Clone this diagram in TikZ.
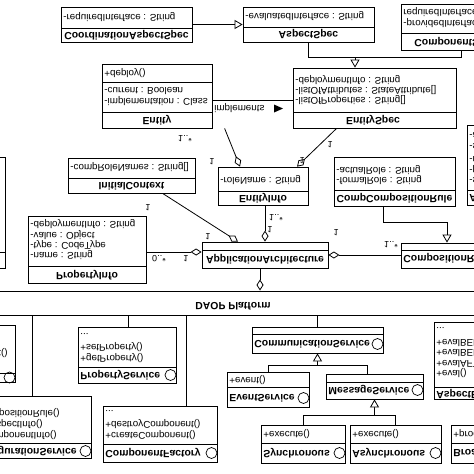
\documentclass[tikz,border=0pt]{standalone}
\usepackage{fontspec}
\setmainfont{Liberation Sans}
\usepackage{graphicx}
\usetikzlibrary{arrows.meta,fit}
\newcommand{\fl}[1]{\scalebox{1}[-1]{#1}}
\newcommand{\T}[3]{\node[tx] (#1) at #2 {\fl{#3}};}
\newcommand{\N}[3]{\node[nm] (#1) at #2 {\fl{#3}};}
\newcommand{\NW}[3]{\node[nm,anchor=west] (#1) at #2 {\fl{#3}};}
\newcommand{\M}[3]{\node[lab] (#1) at #2 {\fl{#3}};}
\tikzset{
  cls/.style={draw, inner sep=0pt, line width=0.8pt},
  tx/.style={inner sep=0pt, anchor=west, font=\fontsize{9.8}{10}\selectfont},
  nm/.style={inner sep=0pt, font=\fontsize{10.4}{11}\selectfont\bfseries},
  lab/.style={inner sep=0pt, font=\fontsize{9}{10}\selectfont},
  svc/.style={draw, circle, inner sep=0pt, minimum size=11pt, line width=0.7pt},
  gen/.style={-{Triangle[length=8pt,width=9pt,fill=white]}},
  agg/.style={{Diamond[length=11pt,width=7pt,fill=white]}-},
}
\begin{document}
\begin{tikzpicture}[x=1pt,y=-1pt,line width=0.8pt]
\useasboundingbox (0,0) rectangle (474,474);
\fill[white] (0,0) rectangle (474,474);
\clip (0,0) rectangle (474,474);

% ---------- upper classes ----------
\node[cls, fit={(61,7) (192,42)}] (cas) {};
\draw (61,28) -- (192,28);
\T{tcas1}{(63,17)}{-requiredInterface : String}
\N{ncas}{(126.5,35)}{CoordinationAspectSpec}

\node[cls, fit={(243,7) (374,42)}] (asp) {};
\draw (243,27) -- (374,27);
\T{tasp1}{(245,16)}{-evaluatedInterface : String}
\N{nasp}{(308.5,34)}{AspectSpec}

\node[cls, fit={(401,4) (540,50)}] (comp) {};
\draw (401,33) -- (540,33);
\T{tcomp1}{(403,12)}{requiredInterface : String}
\T{tcomp2}{(403,23)}{-providedInterface : String}
\NW{ncomp}{(414,42)}{ComponentSpec}

\node[cls, fit={(102,64) (212,128)}] (ent) {};
\draw (102,82) -- (212,82);
\draw (102,112) -- (212,112);
\T{tent1}{(104,73)}{+deploy()}
\T{tent2}{(104,91)}{-current : Boolean}
\T{tent3}{(104,101)}{-implementation : Class}
\N{nent}{(157,120)}{Entity}

\node[cls, fit={(293,68) (456,128)}] (esp) {};
\draw (293,112) -- (456,112);
\T{tesp1}{(295,80)}{-deploymentInfo : String}
\T{tesp2}{(295,90)}{-listOfAttributes : StateAttribute[]}
\T{tesp3}{(295,100)}{-listOfProperties : String[]}
\N{nesp}{(373,120)}{EntitySpec}

\node[cls, fit={(68,158) (195,193)}] (ic) {};
\draw (68,178) -- (195,178);
\T{tic1}{(70,167)}{-compRoleNames : String[]}
\N{nic}{(131.5,186)}{InitialContext}

\node[cls, fit={(218,167) (308,205)}] (ei) {};
\draw (218,191) -- (308,191);
\T{tei1}{(220,180)}{-roleName : String}
\N{nei}{(263,198)}{EntityInfo}

\node[cls, fit={(28,216) (146,283)}] (pi) {};
\draw (28,266) -- (146,266);
\T{tpi1}{(30,224)}{-deploymentInfo : String}
\T{tpi2}{(30,235)}{-value : Object}
\T{tpi3}{(30,245)}{-type : CodeType}
\T{tpi4}{(30,255)}{-name : String}
\N{npi}{(87,275)}{PropertyInfo}

\node[cls, fit={(202,242) (328,268)}] (aa) {};
\draw (202,250) -- (328,250);
\N{naa}{(265,259)}{ApplicationArchitecture}

\node[cls, fit={(334,157) (455,206)}] (ccr) {};
\draw (334,190) -- (455,190);
\T{tccr1}{(336,170)}{-actualRole : String}
\T{tccr2}{(336,180)}{-formalRole : String}
\N{nccr}{(394.5,198)}{CompCompositionRule}

\node[cls, fit={(401,243) (560,268)}] (cr) {};
\draw (401,250) -- (560,250);
\NW{ncr}{(403,258)}{CompositionRule}

\node[cls, fit={(467,125) (560,205)}] (ai) {};
\draw (467,190) -- (560,190);
\T{tai1}{(469,135)}{-aspectName : String}
\T{tai2}{(469,146)}{-state : String}
\T{tai3}{(469,159)}{-name : String}
\T{tai4}{(469,170)}{-priority : int}
\T{tai5}{(469,180)}{-scope : String}
\NW{nai}{(469,197)}{AspectInfo}

\node[cls, fit={(-80,157) (5,268)}] (lb) {};
\draw (-80,252) -- (5,252);

% ---------- upper connectors ----------
\draw[gen] (cas.east) -- (asp.west);
\coordinate (gj1) at (355,57);
\draw (asp.south) |- (gj1);
\draw ([xshift=61pt]comp.south west) |- (gj1);
\draw[gen] (gj1) -- (gj1 |- esp.north);

\draw ([yshift=-4pt]ent.east) -- ([yshift=-2pt]esp.west);
\T{timpl}{(214,108)}{implements}
\fill (274,104.5) -- (283,108.5) -- (274,112.5) -- cycle;

\draw[agg] ([xshift=-23pt]ei.north) -- ([xshift=123pt]ent.south west);
\draw[agg] ([xshift=34pt]ei.north) -- ([xshift=44pt]esp.south west);
\draw[agg] ([xshift=-27pt]aa.north) -- ([xshift=95pt]ic.south west);
\draw[agg] ([xshift=2pt]ei.south |- aa.north) -- ([xshift=2pt]ei.south);
\draw[agg] ([yshift=3pt]aa.west) -- ([yshift=3pt]aa.west -| pi.east);
\draw[agg] (aa.east) -- (aa.east -| cr.west);
\coordinate (gj4) at (447,222);
\draw[gen] ([xshift=50pt]ccr.south west) |- (gj4) -- (gj4 |- cr.north);

\M{m1}{(185,139)}{1..*}
\M{m2}{(212,162)}{1}
\M{m3}{(330,145)}{1}
\M{m4}{(302,161)}{1}
\M{m5}{(148,208)}{1}
\M{m6}{(208,237)}{1}
\M{m7}{(276,218)}{1..*}
\M{m8}{(270,230)}{1}
\M{m9}{(159,259)}{0..*}
\M{m10}{(186,259)}{1}
\M{m11}{(336,233)}{1}
\M{m12}{(391,245)}{1..*}

% ---------- platform package ----------
\node[draw, inner sep=0pt, line width=1pt, fit={(-10,291) (484,490)}] (pkg) {};
\draw (-10,315) -- (484,315);
\N{npkg}{(233,306)}{DAOP Platform}
\coordinate (aab) at ([xshift=-5pt]aa.south);
\draw[agg] (aab |- pkg.north) -- (aab);

% services
\node[cls, fit={(-60,325) (15,382)}] (ls) {};
\draw (-60,373) -- (15,373);
\node[tx, anchor=east] (tls1) at (8,353) {\fl{+getAspect()}};
\node[svc] (cls1) at (9.5,377.5) {};

\node[cls, fit={(-100,396) (91,458)}] (cfg) {};
\draw (-100,443) -- (91,443);
\node[tx, anchor=east] (tcfg1) at (60,413) {\fl{+getCompositionRule()}};
\node[tx, anchor=east] (tcfg2) at (43,424) {\fl{+getAspectInfo()}};
\node[tx, anchor=east] (tcfg3) at (57,435) {\fl{+getComponentInfo()}};
\node[nm, anchor=east] (ncfg) at (77,451) {\fl{ConfigurationService}};
\node[svc] (ccfg) at (85.5,451) {};

\node[cls, fit={(78,327) (176,383)}] (ps) {};
\draw (78,367) -- (176,367);
\T{tps0}{(80,334)}{...}
\T{tps1}{(80,347)}{+setProperty()}
\T{tps2}{(80,358)}{+getProperty()}
\NW{nps}{(80,375)}{PropertyService}
\node[svc] (cps) at (170.5,375) {};

\node[cls, fit={(103,406) (217,462)}] (cf) {};
\draw (103,444) -- (217,444);
\T{tcf0}{(105,411)}{...}
\T{tcf1}{(105,424)}{+destroyComponent()}
\T{tcf2}{(105,435)}{+createComponent()}
\NW{ncf}{(105,453)}{ComponentFactory}
\node[svc] (ccf) at (211.5,453) {};

\node[cls, fit={(227,372) (309,407)}] (evs) {};
\draw (227,387) -- (309,387);
\T{tevs1}{(229,380)}{+event()}
\NW{nevs}{(229,398)}{EventService}
\node[svc] (cevs) at (303.5,398) {};

\node[cls, fit={(252,327) (383,353)}] (cs) {};
\draw (252,334) -- (383,334);
\NW{ncs}{(254,344)}{CommunicationService}
\node[svc] (ccs) at (377.5,344) {};

\node[cls, fit={(326,374) (423,399)}] (ms) {};
\draw (326,382) -- (423,382);
\NW{nms}{(328,390)}{MessageService}
\node[svc] (cms) at (417.5,390) {};

\node[cls, fit={(261,425) (345,463)}] (sy) {};
\draw (261,443) -- (345,443);
\T{tsy1}{(263,434)}{+execute()}
\NW{nsy}{(263,453)}{Synchronous}
\node[svc] (csy) at (339.5,453) {};

\node[cls, fit={(350,425) (441,463)}] (asy) {};
\draw (350,443) -- (441,443);
\T{tasy1}{(352,434)}{+execute()}
\NW{nasy}{(352,453)}{Asynchronous}
\node[svc] (casy) at (435.5,453) {};

\node[cls, fit={(451,425) (540,463)}] (bc) {};
\draw (451,443) -- (540,443);
\T{tbc1}{(453,434)}{+process()}
\NW{nbc}{(453,453)}{Broadcast}

\node[cls, fit={(434,322) (540,399)}] (ae) {};
\draw (434,387) -- (540,387);
\T{tae0}{(436,328)}{...}
\T{tae1}{(436,342)}{+evalBEFORE\_NEW()}
\T{tae2}{(436,352)}{+evalBEFORE\_INIT()}
\T{tae3}{(436,363)}{+evalAFTER\_NEW()}
\T{tae4}{(436,373)}{+eval()}
\NW{nae}{(436,394)}{AspectEvaluator}

% package links
\coordinate (h1) at (32,315);
\coordinate (h2) at (128,315);
\coordinate (h3) at (186,315);
\coordinate (h4) at (317.5,315);
\draw (h1) -- (h1 |- cfg.north);
\draw (h2) -- (h2 |- ps.north);
\draw (h3) -- (h3 |- cf.north);
\draw (h4) -- (cs.north);

% generalizations in platform
\coordinate (gj2) at (317.5,365);
\draw (evs.north) |- (gj2);
\draw ([xshift=-7.5pt]ms.north) |- (gj2);
\draw[gen] (gj2) -- (cs.south);
\coordinate (gj3) at (374.5,415);
\draw (sy.north) |- (gj3);
\draw (asy.north) |- (gj3);
\draw[gen] (gj3) -- (ms.south);
\end{tikzpicture}
\end{document}
